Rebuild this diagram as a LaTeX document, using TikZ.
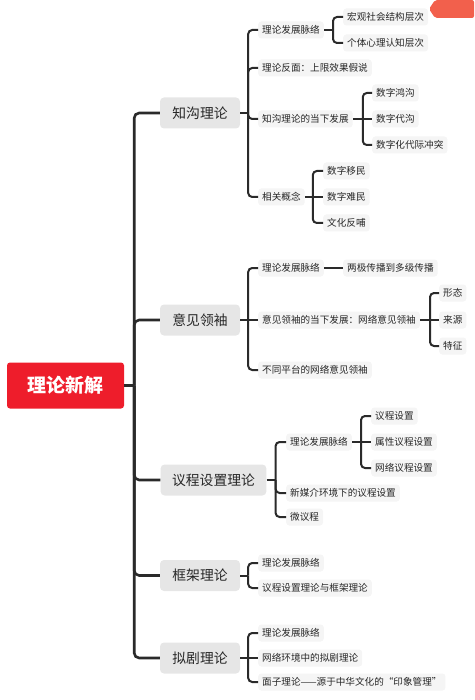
\documentclass[tikz,border=0pt]{standalone}
\usepackage{fontspec}
\setmainfont{Noto Sans CJK SC}
\usepackage{tikz}
\usepackage{xcolor}
\usetikzlibrary{positioning}
\definecolor{rootred}{HTML}{EE1D2B}
\definecolor{topicgray}{HTML}{E6E6E6}
\definecolor{leafgray}{HTML}{F5F5F5}
\definecolor{linedark}{HTML}{2A2A2A}
\definecolor{coral}{HTML}{F2604C}
\tikzstyle{root} = [rectangle, rounded corners=3pt, minimum width=117pt, minimum height=46pt, text centered, fill=rootred, text=white, font=\fontsize{19}{22}\selectfont\bfseries]
\tikzstyle{topic} = [rectangle, rounded corners=4pt, minimum width=80pt, minimum height=31pt, inner xsep=11.5pt, text centered, fill=topicgray, text=black!85, font=\fontsize{13.8}{16}\selectfont]
\tikzstyle{leaf} = [rectangle, rounded corners=3pt, anchor=west, inner xsep=4pt, inner ysep=3pt, minimum height=17pt, fill=leafgray, text=black!85, font=\fontsize{9.6}{11}\selectfont]
\tikzstyle{trunk} = [line width=2.6pt, draw=linedark, rounded corners=5pt]
\tikzstyle{link} = [line width=2pt, draw=linedark, rounded corners=4pt]

\begin{document}
\begin{tikzpicture}[x=1pt, y=-1pt]
\useasboundingbox (0,0) rectangle (474,700);

% corner mark
\fill[coral, rounded corners=2pt] (435,0) -- (474,0) -- (474,18) -- (435,18) -- (429,9) -- cycle;

% Root and topics
\node (root) [root] at (65.5,385.5) {理论新解};
\node (gap) [topic] at (200,113) {知沟理论};
\node (opinion) [topic] at (200,320) {意见领袖};
\node (agenda) [topic] at (213.5,480) {议程设置理论};
\node (frame) [topic] at (200,575.5) {框架理论};
\node (drama) [topic] at (200,658) {拟剧理论};

\draw[trunk] (root.east) -- ++(10,0) coordinate (root-b);
\foreach \t in {gap,opinion,agenda,frame,drama}
    \draw[trunk] (root-b) |- (\t.west);

% Knowledge gap
\node (gap-hist) [leaf] at (258,30) {理论发展脉络};
\node (gap-macro) [leaf] at (343,17) {宏观社会结构层次};
\node (gap-micro) [leaf] at (343,43) {个体心理认知层次};
\node (gap-ceil) [leaf] at (258,68) {理论反面：上限效果假说};
\node (gap-now) [leaf] at (258,119) {知沟理论的当下发展};
\node (gap-divide) [leaf] at (372,93) {数字鸿沟};
\node (gap-gen) [leaf] at (372,119) {数字代沟};
\node (gap-conflict) [leaf] at (372,145) {数字化代际冲突};
\node (gap-concept) [leaf] at (258,197) {相关概念};
\node (gap-immig) [leaf] at (323,171) {数字移民};
\node (gap-refug) [leaf] at (323,197) {数字难民};
\node (gap-back) [leaf] at (323,223) {文化反哺};

\draw[link] (gap.east) -- ++(8,0) coordinate (gap-b);
\foreach \c in {gap-hist,gap-ceil,gap-now,gap-concept}
    \draw[link] (gap-b) |- (\c.west);
\draw[link] (gap-hist.east) -- ++(9,0) coordinate (gap-hist-b);
\foreach \c in {gap-macro,gap-micro}
    \draw[link] (gap-hist-b) |- (\c.west);
\draw[link] (gap-now.east) -- (gap-gen.west);
\path (gap-now.east) -- ++(10,0) coordinate (gap-now-b);
\foreach \c in {gap-divide,gap-conflict}
    \draw[link] (gap-now-b) |- (\c.west);
\draw[link] (gap-concept.east) -- (gap-refug.west);
\path (gap-concept.east) -- ++(8,0) coordinate (gap-concept-b);
\foreach \c in {gap-immig,gap-back}
    \draw[link] (gap-concept-b) |- (\c.west);

% Opinion leader
\node (op-hist) [leaf] at (258,268) {理论发展脉络};
\node (op-multi) [leaf] at (343,268) {两极传播到多级传播};
\node (op-now) [leaf] at (258,320) {意见领袖的当下发展：网络意见领袖};
\node (op-form) [leaf] at (439,293) {形态};
\node (op-source) [leaf] at (439,320) {来源};
\node (op-trait) [leaf] at (439,346) {特征};
\node (op-plat) [leaf] at (258,370) {不同平台的网络意见领袖};

\draw[link] (opinion.east) -- (op-now.west);
\path (opinion.east) -- ++(8,0) coordinate (op-b);
\foreach \c in {op-hist,op-plat}
    \draw[link] (op-b) |- (\c.west);
\draw[link] (op-hist.east) -- (op-multi.west);
\draw[link] (op-now.east) -- (op-source.west);
\path (op-now.east) -- ++(10,0) coordinate (op-now-b);
\foreach \c in {op-form,op-trait}
    \draw[link] (op-now-b) |- (\c.west);

% Agenda setting
\node (ag-hist) [leaf] at (286,442) {理论发展脉络};
\node (ag-set) [leaf] at (371,416) {议程设置};
\node (ag-attr) [leaf] at (371,442) {属性议程设置};
\node (ag-net) [leaf] at (371,468) {网络议程设置};
\node (ag-new) [leaf] at (286,493) {新媒介环境下的议程设置};
\node (ag-micro) [leaf] at (286,517) {微议程};

\draw[link] (agenda.east) -- ++(9,0) coordinate (ag-b);
\foreach \c in {ag-hist,ag-new,ag-micro}
    \draw[link] (ag-b) |- (\c.west);
\draw[link] (ag-hist.east) -- (ag-attr.west);
\path (ag-hist.east) -- ++(9,0) coordinate (ag-hist-b);
\foreach \c in {ag-set,ag-net}
    \draw[link] (ag-hist-b) |- (\c.west);

% Framing
\node (fr-hist) [leaf] at (258,563) {理论发展脉络};
\node (fr-rel) [leaf] at (258,588) {议程设置理论与框架理论};

\draw[link] (frame.east) -- ++(8,0) coordinate (fr-b);
\foreach \c in {fr-hist,fr-rel}
    \draw[link] (fr-b) |- (\c.west);

% Dramaturgy
\node (dr-hist) [leaf] at (258,633) {理论发展脉络};
\node (dr-net) [leaf] at (258,658) {网络环境中的拟剧理论};
\node (dr-face) [leaf] at (258,682) {面子理论——源于中华文化的“印象管理”};

\draw[link] (drama.east) -- (dr-net.west);
\path (drama.east) -- ++(8,0) coordinate (dr-b);
\foreach \c in {dr-hist,dr-face}
    \draw[link] (dr-b) |- (\c.west);

\end{tikzpicture}
\end{document}
